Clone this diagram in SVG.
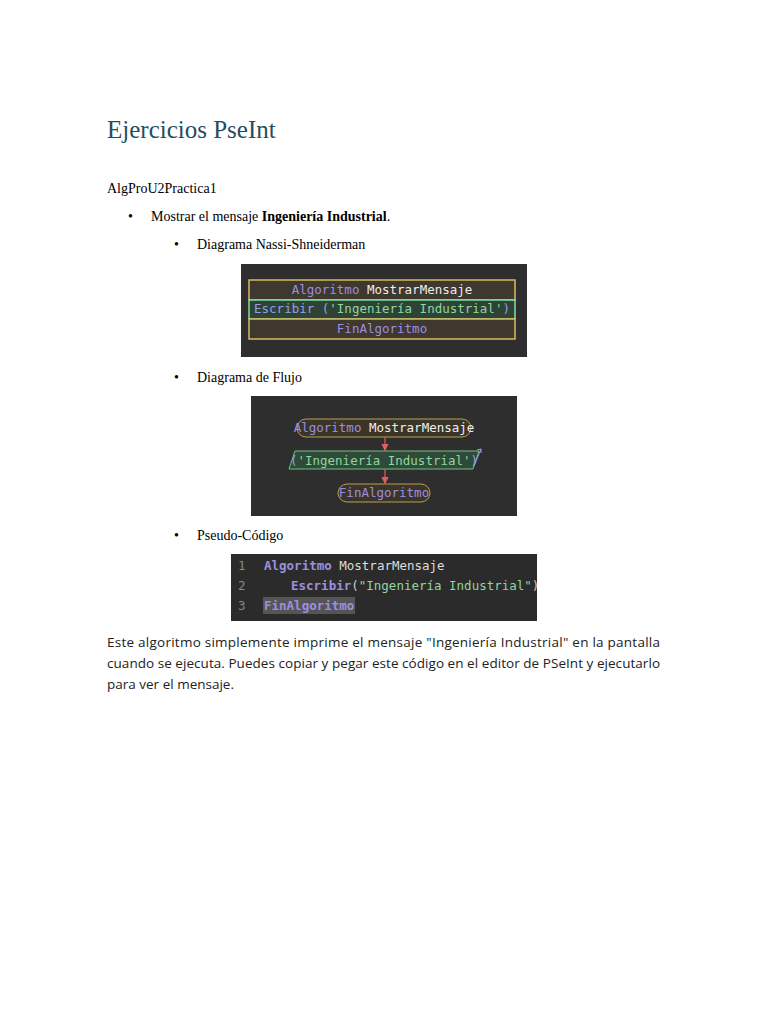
<svg xmlns="http://www.w3.org/2000/svg" width="768" height="1024" viewBox="0 0 768 1024">
<style>
.ser{font-family:"Liberation Serif",serif;fill:#000}
.sans{font-family:"Open Sans","Noto Sans",sans-serif;fill:#222}
.mono{font-family:"DejaVu Sans Mono",monospace;font-size:12.5px}
.kw{fill:#9c8fe0}.wh{fill:#eee}.gr{fill:#8fd6a0}.bl{fill:#8fa0e8}
</style>
<defs><marker id="ah" markerWidth="6" markerHeight="6" refX="5" refY="3" orient="auto"><path d="M0,0L6,3L0,6z" fill="#e06060"/></marker></defs>
<rect width="768" height="1024" fill="#fff"/>
<text x="107" y="138" class="ser" font-size="25" style="fill:#1f4e5f">Ejercicios PseInt</text>
<text x="107" y="193" class="ser" font-size="14">AlgProU2Practica1</text>
<text x="128" y="221" class="ser" font-size="14">•</text>
<text x="151" y="221" class="ser" font-size="14">Mostrar el mensaje <tspan font-weight="bold">Ingeniería Industrial</tspan>.</text>
<text x="174" y="249" class="ser" font-size="14">•</text>
<text x="197" y="249" class="ser" font-size="14">Diagrama Nassi-Shneiderman</text>
<text x="174" y="382" class="ser" font-size="14">•</text>
<text x="197" y="382" class="ser" font-size="14">Diagrama de Flujo</text>
<text x="174" y="540" class="ser" font-size="14">•</text>
<text x="197" y="540" class="ser" font-size="14">Pseudo-Código</text>

<g id="nassi">
<rect x="241" y="264" width="286" height="93" fill="#2e2e2e"/>
<rect x="249" y="280" width="266" height="20" fill="#3e382e" stroke="#d8b860" stroke-width="1.5"/>
<rect x="249" y="300" width="266" height="19" fill="#2f4236" stroke="#7fe0a0" stroke-width="1.5"/>
<rect x="249" y="319" width="266" height="20" fill="#3e382e" stroke="#d8b860" stroke-width="1.5"/>
<text x="382" y="294" class="mono" text-anchor="middle"><tspan class="kw">Algoritmo</tspan><tspan class="wh"> MostrarMensaje</tspan></text>
<text x="382" y="313" class="mono" text-anchor="middle"><tspan class="bl">Escribir (</tspan><tspan class="gr">'Ingeniería Industrial'</tspan><tspan class="bl">)</tspan></text>
<text x="382" y="333" class="mono kw" text-anchor="middle">FinAlgoritmo</text>
</g>

<g id="flujo">
<rect x="251" y="396" width="266" height="120" fill="#2e2e2e"/>
<rect x="297" y="419" width="174" height="18" rx="9" fill="#3a3528" stroke="#b8a050"/>
<text x="384" y="432" class="mono" text-anchor="middle"><tspan class="kw">Algoritmo</tspan><tspan class="wh"> MostrarMensaje</tspan></text>
<polygon points="295,451 479,451 473,469 289,469" fill="#2f4a38" stroke="#6fbf80"/>
<text x="384" y="465" class="mono" text-anchor="middle"><tspan class="bl">(</tspan><tspan class="gr">'Ingeniería Industrial'</tspan><tspan class="bl">)</tspan></text>
<path d="M474,466 L481,449 M477,450 L481,449 L481,453" stroke="#8fa0e8" fill="none"/>
<rect x="338" y="484" width="92" height="18" rx="9" fill="#3a3528" stroke="#b8a050"/>
<text x="384" y="497" class="mono kw" text-anchor="middle">FinAlgoritmo</text>
</g>
<g id="connectors" stroke="#e06060" stroke-width="1.2">
<line x1="385" y1="437" x2="385" y2="450" marker-end="url(#ah)"/>
<line x1="385" y1="469" x2="385" y2="483" marker-end="url(#ah)"/>
</g>

<g id="pseudo">
<rect x="231" y="554" width="306" height="67" fill="#2b2b2b"/>
<g font-family="DejaVu Sans Mono,monospace" font-size="12.5">
<text x="238" y="570" fill="#888">1</text>
<text x="238" y="590" fill="#888">2</text>
<text x="238" y="610" fill="#888">3</text>
<rect x="263" y="597" width="92" height="17" fill="#555"/>
<text x="264" y="570"><tspan fill="#9c8fe0" font-weight="bold">Algoritmo</tspan><tspan fill="#ddd"> MostrarMensaje</tspan></text>
<text x="291" y="590"><tspan fill="#9c8fe0" font-weight="bold">Escribir</tspan><tspan fill="#ccc">(</tspan><tspan fill="#8fd6a0">"Ingeniería Industrial"</tspan><tspan fill="#ccc">)</tspan></text>
<text x="264" y="610" fill="#9c8fe0" font-weight="bold">FinAlgoritmo</text>
</g>
</g>

<g class="sans" font-size="13.5">
<text x="107" y="647" textLength="553" lengthAdjust="spacing">Este algoritmo simplemente imprime el mensaje "Ingeniería Industrial" en la pantalla</text>
<text x="107" y="668" textLength="553" lengthAdjust="spacing">cuando se ejecuta. Puedes copiar y pegar este código en el editor de PSeInt y ejecutarlo</text>
<text x="107" y="689">para ver el mensaje.</text>
</g>
</svg>
